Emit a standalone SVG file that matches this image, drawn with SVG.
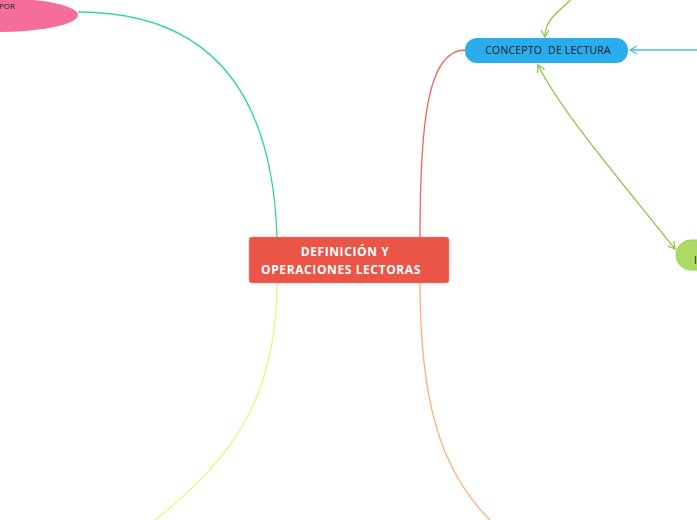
<svg xmlns="http://www.w3.org/2000/svg" width="697" height="520" viewBox="0 0 697 520">
<style>
.c{fill:none;stroke-width:1.3}
.t{font-family:"Open Sans","Liberation Sans",sans-serif}
</style>
<defs>
<marker id="ag" markerWidth="10" markerHeight="10" refX="8" refY="5" orient="auto" markerUnits="userSpaceOnUse"><path d="M1,1 L8,5 L1,9" fill="none" stroke="#8CC44B" stroke-width="1.3"/></marker>
<marker id="agS" markerWidth="10" markerHeight="10" refX="8" refY="5" orient="auto-start-reverse" markerUnits="userSpaceOnUse"><path d="M1,1 L8,5 L1,9" fill="none" stroke="#8CC44B" stroke-width="1.3"/></marker>
<marker id="ab" markerWidth="10" markerHeight="10" refX="8" refY="5" orient="auto" markerUnits="userSpaceOnUse"><path d="M1,1 L8,5 L1,9" fill="none" stroke="#4DB9EE" stroke-width="1.3"/></marker>
</defs>
<rect width="697" height="520" fill="#fff"/>
<g id="connectors">
<path class="c" stroke="#33D6A0" d="M78,12 C200,12 272,80 277,237"/>
<path class="c" stroke="#F0645A" d="M420,237 C420,120 428,50 465,50"/>
<path class="c" stroke="#F7EE7E" d="M277,283 C277,400 230,460 155,520"/>
<path class="c" stroke="#FFAE78" d="M420,283 C420,400 440,470 490,520"/>
<path class="c" stroke="#4DB9EE" d="M697,50 L630,50" marker-end="url(#ab)"/>
<path class="c" stroke="#8CC44B" d="M572,-2 C560,12 545,18 545,37" marker-end="url(#ag)"/>
<path class="c" stroke="#8CC44B" d="M538,65 C560,110 620,180 675,249" marker-start="url(#agS)" marker-end="url(#ag)"/>
</g>
<g id="node-pink">
<ellipse cx="-4" cy="15" rx="82" ry="17" fill="#F56E99"/>
<text class="t" x="-1" y="9" font-size="8" fill="#222">POR</text>
</g>
<g id="node-central">
<rect x="249" y="237" width="200" height="46" rx="3" fill="#EB5547" stroke="#f08a80" stroke-width="0.5"/>
<text class="t" x="345" y="256" font-size="12" font-weight="bold" fill="#fff" text-anchor="middle" letter-spacing="0.6">DEFINICIÓN Y</text>
<text class="t" x="341" y="274" font-size="12" font-weight="bold" fill="#fff" text-anchor="middle" letter-spacing="0.6">OPERACIONES LECTORAS</text>
</g>
<g id="node-concepto">
<rect x="465" y="38" width="163" height="25" rx="12" fill="#29AEEB"/>
<text class="t" x="548" y="54" font-size="10.5" fill="#1a1a2e" text-anchor="middle" letter-spacing="0.2" xml:space="preserve">CONCEPTO  DE LECTURA</text>
</g>
<g id="node-green">
<rect x="676" y="240" width="60" height="30" rx="15" fill="#ACDB63" stroke="#9BCF55" stroke-width="1"/>
<text class="t" x="694" y="264" font-size="10" fill="#222">I</text>
</g>
</svg>
